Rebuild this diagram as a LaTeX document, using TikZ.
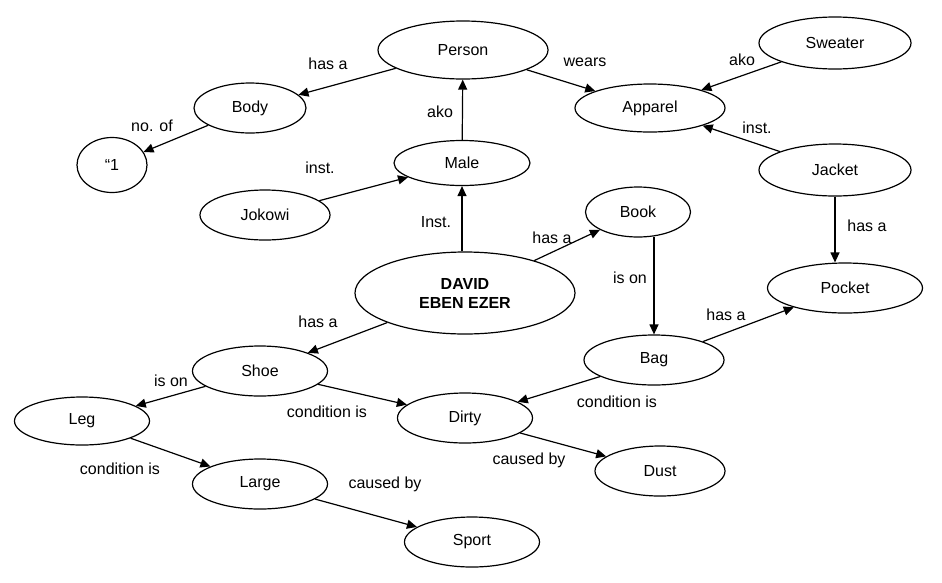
\documentclass[tikz,border=0pt]{standalone}
\usepackage{fontspec}
\setmainfont{Liberation Sans}
\usetikzlibrary{arrows.meta,shapes.geometric}
\begin{document}
\begin{tikzpicture}[x=1pt,y=-1pt,
  n/.style={draw,ellipse,line width=1.2pt,inner sep=0pt,font=\fontsize{16}{19}\selectfont},
  e/.style={-{Triangle[length=10pt,width=9pt]},line width=1.2pt},
  l/.style={font=\fontsize{16}{19}\selectfont}]
\useasboundingbox (0,0) rectangle (942,582);
\def\N#1#2#3#4#5#6{\node[n,minimum width=#4pt,minimum height=#5pt] (#1) at (#2,#3) {#6};}
\N{person}{463}{50}{170}{58}{Person}
\N{body}{250}{108}{112}{50}{Body}
\N{one}{112}{165}{70}{55}{``1}
\N{male}{462}{163}{136}{45}{Male}
\N{jokowi}{265}{215}{130}{50}{Jokowi}
\N{apparel}{650}{108}{150}{48}{Apparel}
\N{sweater}{835}{43}{152}{52}{Sweater}
\N{jacket}{835}{170}{152}{52}{Jacket}
\N{book}{638}{212}{105}{50}{Book}
\N{pocket}{845}{288}{155}{50}{Pocket}
\node[n,minimum width=220pt,minimum height=82pt,font=\fontsize{16}{19}\selectfont\bfseries,align=center] (david) at (465,293) {DAVID\\EBEN EZER};
\N{bag}{654}{360}{140}{50}{Bag}
\N{shoe}{260}{371}{135}{50}{Shoe}
\N{leg}{82}{421}{135}{48}{Leg}
\N{dirty}{465}{418}{135}{50}{Dirty}
\N{dust}{660}{471}{130}{50}{Dust}
\N{large}{260}{484}{135}{50}{Large}
\N{sport}{472}{542}{135}{50}{Sport}
\coordinate (bk) at (654,237);
\draw[e] (person) -- (body);
\draw[e] (body) -- (one);
\draw[e] (male) -- (person);
\draw[e] (jokowi) -- (male);
\draw[e] (person) -- (apparel);
\draw[e] (sweater) -- (apparel);
\draw[e] (jacket) -- (apparel);
\draw[e] (jacket.south) -- (pocket.north -| jacket.south);
\draw[e] (david.north -| male.south) -- (male.south);
\draw[e] (david) -- (book);
\draw[e] (bk) -- (bag.north -| bk);
\draw[e] (bag) -- (pocket);
\draw[e] (david) -- (shoe);
\draw[e] (shoe) -- (leg);
\draw[e] (shoe) -- (dirty);
\draw[e] (bag) -- (dirty);
\draw[e] (leg) -- (large);
\draw[e] (dirty) -- (dust);
\draw[e] (large) -- (sport);
\node[l] (t1) at (328,64) {has a};
\node[l] (t2) at (152,126) {no. of};
\node[l] (t3) at (440,112) {ako};
\node[l] (t4) at (320,168) {inst.};
\node[l] (t5) at (585,62) {wears};
\node[l] (t6) at (742,60) {ako};
\node[l] (t7) at (757,128) {inst.};
\node[l] (t8) at (867,226) {has a};
\node[l] (t9) at (436,222) {Inst.};
\node[l] (t10) at (552,238) {has a};
\node[l] (t11) at (630,278) {is on};
\node[l] (t12) at (726,315) {has a};
\node[l] (t13) at (318,322) {has a};
\node[l] (t14) at (171,381) {is on};
\node[l] (t15) at (327,412) {condition is};
\node[l] (t16) at (617,402) {condition is};
\node[l] (t17) at (120,469) {condition is};
\node[l] (t18) at (529,460) {caused by};
\node[l] (t19) at (385,484) {caused by};
\end{tikzpicture}
\end{document}
